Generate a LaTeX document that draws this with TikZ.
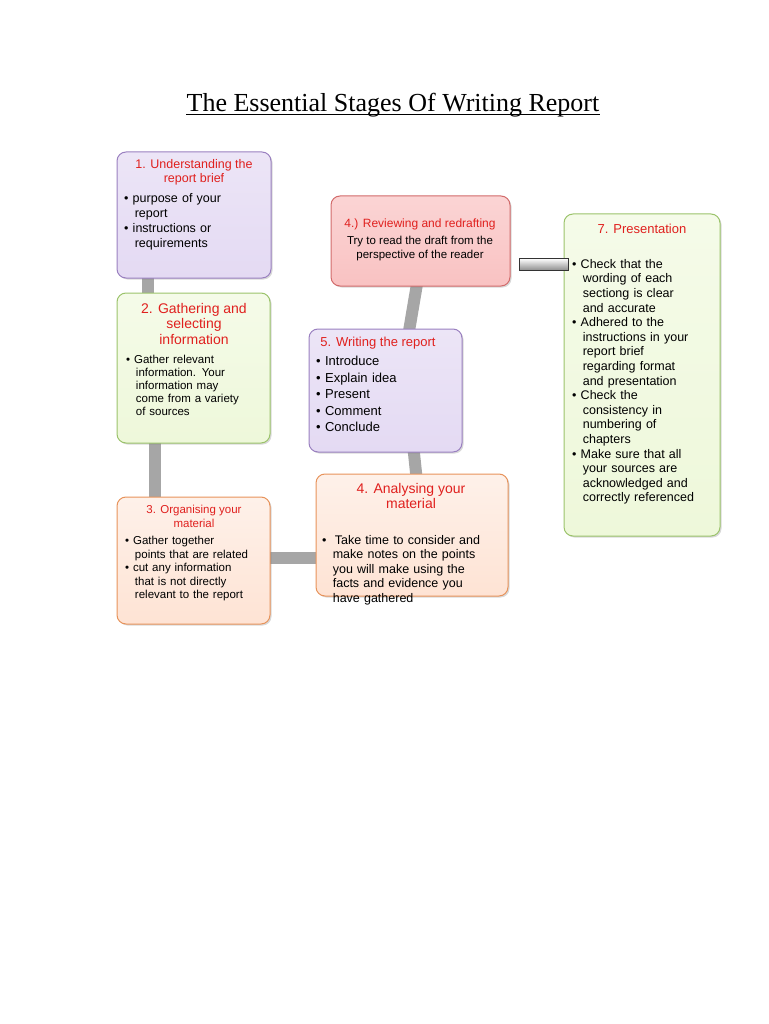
\documentclass[tikz,border=0pt]{standalone}
\usepackage{fontspec}
\setmainfont{Liberation Sans}
\newfontfamily\titlefont{Liberation Serif}
\usetikzlibrary{shadows}
\definecolor{hred}{HTML}{E0201E}
\definecolor{pur}{HTML}{9A80C0}\definecolor{purf}{HTML}{E4DAF3}
\definecolor{grn}{HTML}{9BC36B}\definecolor{grnf}{HTML}{EEF8DA}
\definecolor{org}{HTML}{E7935B}\definecolor{orgf}{HTML}{FEE3D4}
\definecolor{pnk}{HTML}{D26B6B}\definecolor{pnkf}{HTML}{F9C2C2}
\newcommand{\bi}[1]{{\hangindent=0.85em\hangafter=1\noindent\textbullet\ #1\par}}
\tikzset{
 box/.style={draw, line width=1pt, rounded corners=9pt, drop shadow={opacity=0.3,shadow xshift=1.5pt,shadow yshift=-1.5pt}},
 pbox/.style={box, draw=pur, top color=purf!70!white, bottom color=purf},
 gbox/.style={box, draw=grn, top color=grnf!60!white, bottom color=grnf},
 obox/.style={box, draw=org, top color=orgf!50!white, bottom color=orgf},
 rbox/.style={box, draw=pnk, top color=pnkf!70!white, bottom color=pnkf},
 link/.style={draw=black!35, line width=12pt},
 txt/.style={anchor=north west, inner sep=0pt},
 hd/.style={anchor=north, inner sep=0pt, align=center, text=hred},
}
\begin{document}
\begin{tikzpicture}[x=1pt,y=-1pt]
\useasboundingbox (0,0) rectangle (768,1024);
\node[font=\titlefont\fontsize{26}{30}\selectfont, inner sep=0pt] (title) at (393,105) {The Essential Stages Of Writing Report};
\draw[line width=1.2pt] ([yshift=-3pt]title.base west) -- ([yshift=-3pt]title.base east);
% connectors
\coordinate (c1a) at (148,270); \coordinate (c1b) at (148,300);
\coordinate (c2a) at (155,435); \coordinate (c2b) at (155,505);
\coordinate (c3a) at (262,558); \coordinate (c3b) at (324,558);
\coordinate (c4a) at (413,444); \coordinate (c4b) at (417,482);
\coordinate (c5a) at (408,337); \coordinate (c5b) at (418,278);
\draw[link] (c1a) -- (c1b);
\draw[link] (c2a) -- (c2b);
\draw[link] (c3a) -- (c3b);
\draw[link] (c4a) -- (c4b);
\draw[link] (c5a) -- (c5b);
% boxes
\path[pbox] (117,152) rectangle (271,278) node[pos=0] (b1) {};
\path[gbox] (117,293) rectangle (270,443) node[pos=0] (b2) {};
\path[obox] (117,497) rectangle (270,624) node[pos=0] (b3) {};
\path[rbox] (331,196) rectangle (510,286) node[pos=0] (b4r) {};
\path[pbox] (309,329) rectangle (462,452) node[pos=0] (b5) {};
\path[obox] (316,474) rectangle (508,596) node[pos=0] (b4) {};
\path[gbox] (564,214) rectangle (720,536) node[pos=0] (b7) {};
\node[draw=black!80, line width=0.8pt, top color=white, bottom color=black!45, minimum width=49pt, minimum height=12pt, inner sep=0pt, anchor=north west] (bar) at (519,258) {};
% texts
\node[hd, font=\fontsize{12.5}{14.5}\selectfont] (h1) at (194,159) {1. Understanding the\\report brief};
\node[txt, text width=140pt, font=\fontsize{12.5}{15}\selectfont] (t1) at (124,193) {\bi{purpose of your\newline report}\bi{instructions or\newline requirements}};
\node[hd, font=\fontsize{14}{15.5}\selectfont] (h2) at (194,303) {2. Gathering and\\selecting\\information};
\node[txt, text width=140pt, font=\fontsize{11.5}{13}\selectfont] (t2) at (126,355) {\bi{Gather relevant\newline information. Your\newline information may\newline come from a variety\newline of sources}};
\node[hd, font=\fontsize{11.5}{13.5}\selectfont] (h3) at (194,505) {3. Organising your\\material};
\node[txt, text width=140pt, font=\fontsize{11.5}{13.5}\selectfont] (t3) at (125,536) {\bi{Gather together\newline points that are related}\bi{cut any information\newline that is not directly\newline relevant to the report}};
\node[hd, font=\fontsize{12}{14}\selectfont] (h4r) at (420,219) {4.) Reviewing and redrafting};
\node[align=center, inner sep=0pt, anchor=north, font=\fontsize{11.5}{14}\selectfont] (t4r) at (420,236) {Try to read the draft from the\\perspective of the reader};
\node[hd, font=\fontsize{13}{15}\selectfont] (h5) at (378,337) {5. Writing the report};
\node[txt, text width=140pt, font=\fontsize{13}{16.5}\selectfont] (t5) at (316,356) {\bi{Introduce}\bi{Explain idea}\bi{Present}\bi{Comment}\bi{Conclude}};
\node[hd, font=\fontsize{14}{15.5}\selectfont] (h4) at (411,483) {4. Analysing your\\material};
\node[txt, text width=180pt, font=\fontsize{12.5}{14.5}\selectfont] (t4) at (322,535) {{\hangindent=0.85em\hangafter=1\noindent\textbullet\ \ Take time to consider and\newline make notes on the points\newline you will make using the\newline facts and evidence you\newline have gathered\par}};
\node[hd, font=\fontsize{13}{15}\selectfont] (h7) at (642,224) {7. Presentation};
\node[txt, text width=150pt, font=\fontsize{12.5}{14.6}\selectfont] (t7) at (572,259) {\bi{Check that the\newline wording of each\newline sectiong is clear\newline and accurate}\bi{Adhered to the\newline instructions in your\newline report brief\newline regarding format\newline and presentation}\bi{Check the\newline consistency in\newline numbering of\newline chapters}\bi{Make sure that all\newline your sources are\newline acknowledged and\newline correctly referenced}};
\end{tikzpicture}
\end{document}
